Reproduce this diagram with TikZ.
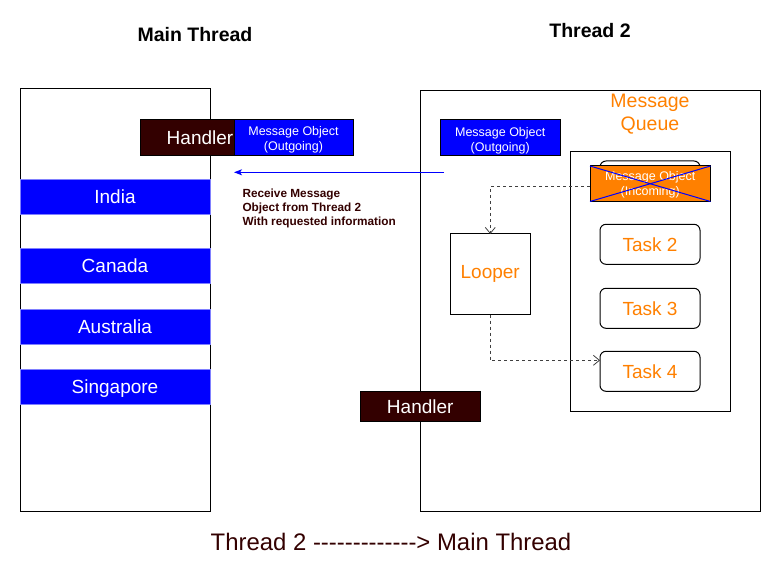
\documentclass[tikz,border=0pt]{standalone}
\usepackage{fontspec}
\setmainfont{Liberation Sans}
\usetikzlibrary{arrows.meta}
\definecolor{darkbrown}{HTML}{330000}
\definecolor{qorange}{HTML}{FF8000}
\definecolor{pureblue}{HTML}{0000FF}
\definecolor{barline}{HTML}{8080FF}
\newcommand\hy{\mbox{-}}
\begin{document}
\begin{tikzpicture}[x=1pt,y=-1pt,line width=1pt,
  every node/.style={inner sep=0pt,outer sep=0pt},
  frame/.style={draw=black,line width=1pt,anchor=north west},
  bar/.style={fill=pureblue,draw=barline,line width=0.8pt,anchor=north west,
    minimum width=190pt,minimum height=35pt,text=white,text height=13.6pt,text depth=0pt,
    font=\fontsize{19}{22}\selectfont},
  handlerbox/.style={fill=darkbrown,draw=black,line width=1pt,anchor=north west,
    text=white,font=\fontsize{19}{22}\selectfont},
  msgbox/.style={fill=pureblue,draw=black,line width=1pt,anchor=north west},
  msgtext/.style={text=white,align=center,font=\fontsize{12.5}{15}\selectfont},
  taskbox/.style={draw=black,line width=1pt,rounded corners=6pt,anchor=north west,
    minimum width=100pt,minimum height=40pt,text=qorange,font=\fontsize{19}{22}\selectfont},
  title/.style={font=\bfseries\fontsize{19.5}{23}\selectfont,text=black},
  flow/.style={draw=black!75,line width=0.8pt,dash pattern=on 3pt off 3pt,
    -{Straight Barb[length=6pt,width=10pt,line width=0.8pt]}}
]
\useasboundingbox (0,0) rectangle (781,585);

% titles
\node[title] (tmain) at (195,35) {Main Thread};
\node[title] (ttwo) at (590,31) {Thread 2};

% main thread column
\node[frame,minimum width=190pt,minimum height=422pt] (mainbox) at (20,89) {};
\node[bar] (india) at (20,179.5) {India};
\node[bar] (canada) at (20,248.5) {Canada};
\node[bar] (australia) at (20,309) {Australia};
\node[bar] (singapore) at (20,369.5) {Singapore};

% handler + message in main thread
\node[handlerbox,minimum width=120pt,minimum height=36pt] (hmain) at (140,120) {Handler};
\node[msgbox,minimum width=119pt,minimum height=35.5pt] (msgout1) at (234,120) {};
\node[msgtext] (msgout1t) at ([yshift=-2.5pt]msgout1.center) {Message Object\\(Outgoing)};

% thread 2 column
\node[frame,minimum width=340pt,minimum height=420pt] (twobox) at (420,91) {};
\node[msgbox,minimum width=120.5pt,minimum height=36pt] (msgout2) at (440,120) {};
\node[msgtext] (msgout2t) at ([yshift=-2.5pt]msgout2.center) {Message Object\\(Outgoing)};

% blue arrow
\coordinate (bstart) at (444,172.3);
\coordinate (bend) at (234,172.3);
\draw[pureblue,line width=1pt,-{Stealth[length=8pt,width=6pt,inset=2pt]}] (bstart) -- (bend);
\node[anchor=north west,align=left,text=darkbrown,font=\bfseries\fontsize{11.8}{14}\selectfont] (recv) at (242.5,189)
  {Receive Message\\Object from Thread 2\\With requested information};

% message queue
\node[align=center,text=qorange,font=\fontsize{19.5}{23}\selectfont] (mqlabel) at (650,114) {Message\\Queue};
\node[frame,minimum width=160.5pt,minimum height=260pt] (queue) at (570,151.5) {};
\node[taskbox] (task1) at (600,161) {};
\node[fill=qorange,draw=black,line width=1pt,anchor=north west,minimum width=120.5pt,minimum height=35.5pt] (msgin) at (590,166) {};
\node[msgtext] (msgint) at ([yshift=-1.5pt]msgin.center) {Message Object\\(Incoming)};
\draw[pureblue,line width=1pt] (msgin.north west) -- (msgin.south east);
\draw[pureblue,line width=1pt] (msgin.south west) -- (msgin.north east);
\node[taskbox] (task2) at (600,224.3) {Task 2};
\node[taskbox] (task3) at (600,288.3) {Task 3};
\node[taskbox] (task4) at (600,351.3) {Task 4};

% looper
\node[frame,minimum width=80.5pt,minimum height=80.5pt,text=qorange,font=\fontsize{19}{22}\selectfont] (looper) at (450,234) {Looper};

% handler thread 2
\node[handlerbox,minimum width=120.5pt,minimum height=30.5pt] (htwo) at (360,391) {Handler};

% dashed connectors
\draw[flow] ([yshift=-3pt]msgin.west) -| (looper.north);
\draw[flow] (looper.south) |- ([yshift=11pt]task4.west);

% bottom caption
\node[text=darkbrown,font=\fontsize{23.9}{27}\selectfont] (caption) at (391,542) {Thread 2 \hy\hy\hy\hy\hy\hy\hy\hy\hy\hy\hy\hy\hy> Main Thread};
\end{tikzpicture}
\end{document}
